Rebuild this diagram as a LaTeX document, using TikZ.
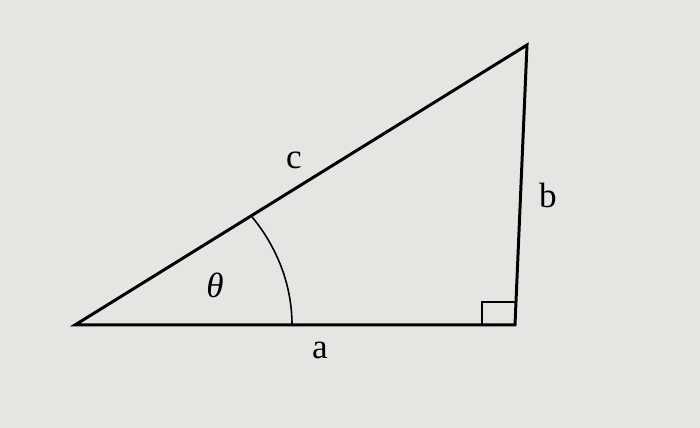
\documentclass[tikz,border=0pt]{standalone}
\usepackage{fontspec}
\setmainfont{Liberation Serif}
\usetikzlibrary{calc}
\definecolor{paper}{RGB}{229,230,226}
\tikzset{
	side/.style={black, line width=1.7pt, line join=miter},
	thin/.style={black, line width=0.9pt},
	lbl/.style={font=\fontsize{20}{24}\selectfont, inner sep=0pt}
}
\begin{document}
\begin{tikzpicture}[x=0.02cm, y=0.02cm]
		\fill[paper] (0,0) rectangle (700,428);
		\useasboundingbox (0,0) rectangle (700,428);

		\coordinate (A) at (75,103);
		\coordinate (B) at (515,103);
		\coordinate (C) at (527,383);

		\draw[side] (A) -- (B) -- (C) -- cycle;

		% right angle
		\draw[thin] (482,103) -- (482,126) -- (515.5,126);

		% angle arc
		\draw[thin] ($(A)+(217,0)$) arc[start angle=0, end angle=35.3, x radius=217, y radius=187];

		\node[lbl] (c) at (294,268) {c};
		\node[lbl] (b) at (548,233) {b};
		\node[lbl] (a) at (320,78) {a};
		\node[lbl] (t) at (215,143) {\textit{θ}};
	\end{tikzpicture}
\end{document}
